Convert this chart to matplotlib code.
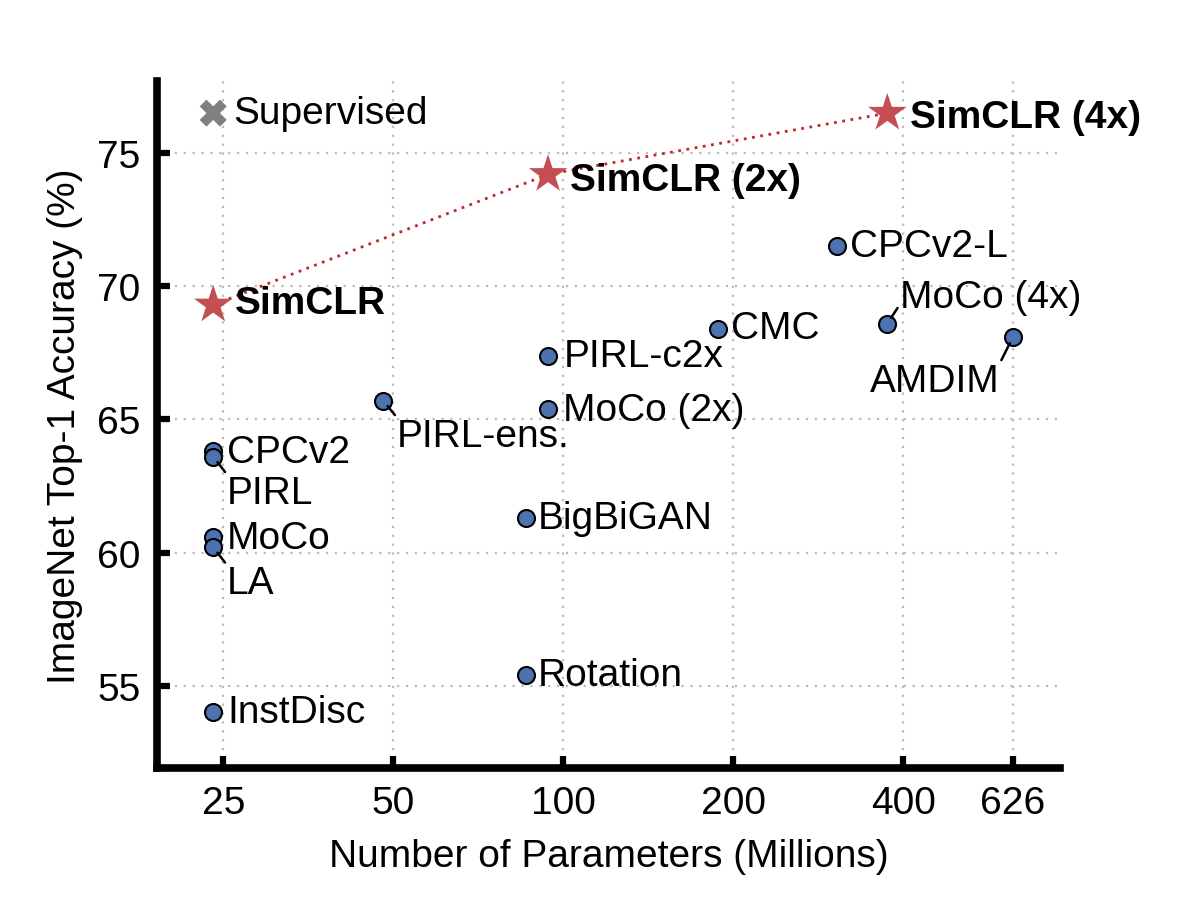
import matplotlib
matplotlib.use("Agg")
import matplotlib.pyplot as plt
import numpy as np

plt.rcParams['font.family'] = ['Liberation Sans', 'DejaVu Sans']

# Data
simclr_names = ["SimCLR", "SimCLR (2x)", "SimCLR (4x)"]
simclr_params = [24, 94, 375]
simclr_acc = [69.3, 74.2, 76.5]

sup_name = "Supervised"
sup_params = [24]
sup_acc = [76.5]

other_names = ["CPCv2-L", "MoCo (4x)", "AMDIM", "CMC", "PIRL-c2x", "MoCo (2x)",
               "PIRL-ens.", "CPCv2", "PIRL", "MoCo", "LA", "BigBiGAN",
               "Rotation", "InstDisc"]
other_params = [305, 375, 626, 188, 94, 94, 48, 24, 24, 24, 24, 86, 86, 24]
other_acc = [71.5, 68.6, 68.1, 68.4, 67.4, 65.4, 65.7, 63.8, 63.6, 60.6, 60.2,
             61.3, 55.4, 54.0]

xticks = [25, 50, 100, 200, 400, 626]
yticks = [55, 60, 65, 70, 75]

# label offsets (points) and alignment; leader line relpos if any
px = 0.72
label_style = {
    "CPCv2-L": (13, 0, 'left', None),
    "MoCo (4x)": (13, 27, 'left', (0, 0.3)),
    "AMDIM": (-13, -44, 'right', (1, 1)),
    "CMC": (13, 1, 'left', None),
    "PIRL-c2x": (16, 0, 'left', None),
    "MoCo (2x)": (15, -1, 'left', None),
    "PIRL-ens.": (14, -35, 'left', (0, 1)),
    "CPCv2": (14, -1, 'left', None),
    "PIRL": (14, -36, 'left', (0, 1)),
    "MoCo": (14, -1, 'left', None),
    "LA": (14, -36, 'left', (0, 1)),
    "BigBiGAN": (12, 0, 'left', None),
    "Rotation": (12, 0, 'left', None),
    "InstDisc": (14, 0, 'left', None),
}
simclr_offsets = [(22, 2), (22, -6), (23, -4)]

blue = '#4C72B0'
red = '#C44E52'

fig = plt.figure(figsize=(12, 9.03), dpi=100)
ax = fig.add_axes([0.131, 0.148, 0.752, 0.761])
ax.set_xscale('log')
ax.set_xlim(19.1, 757)
ax.set_ylim(51.9, 77.7)

ax.grid(True, linestyle=(0, (1, 3)), color='#bbbbbb', linewidth=1.6)
ax.set_axisbelow(True)

# SimCLR line + stars
ax.plot(simclr_params, simclr_acc, linestyle=(0, (1, 2)), color='#C0282D',
        linewidth=2, zorder=2)
ax.scatter(simclr_params, simclr_acc, marker='*', s=850, color=red,
           edgecolor='none', zorder=4)
for n, x, y, (dx, dy) in zip(simclr_names, simclr_params, simclr_acc, simclr_offsets):
    ax.annotate(n, (x, y), xytext=(dx * px, dy * px), textcoords='offset points',
                ha='left', va='center', fontsize=28, fontweight='bold', zorder=5)

# Supervised
ax.scatter(sup_params, sup_acc, marker='X', s=380, color='#808080',
           edgecolor='none', zorder=4)
ax.annotate(sup_name, (sup_params[0], sup_acc[0]), xytext=(20 * px, 0),
            textcoords='offset points', ha='left', va='center', fontsize=28)

# Others
ax.scatter(other_params, other_acc, marker='o', s=150, color=blue,
           edgecolor='black', linewidth=1.5, zorder=4)
for n, x, y in zip(other_names, other_params, other_acc):
    dx, dy, ha, rel = label_style[n]
    kw = {}
    if rel is not None:
        kw['arrowprops'] = dict(arrowstyle='-', color='black', lw=1.8,
                                shrinkA=0, shrinkB=5, relpos=rel)
    ax.annotate(n, (x, y), xytext=(dx * px, dy * px), textcoords='offset points',
                ha=ha, va='center', fontsize=28, zorder=5, **kw)

ax.set_xticks(xticks)
ax.set_xticklabels([str(t) for t in xticks])
ax.xaxis.set_minor_locator(matplotlib.ticker.NullLocator())
ax.set_yticks(yticks)

for s in ['top', 'right']:
    ax.spines[s].set_visible(False)
for s in ['left', 'bottom']:
    ax.spines[s].set_linewidth(5.5)
ax.tick_params(axis='both', direction='in', length=9, width=4.5,
               labelsize=28, pad=12)

ax.set_xlabel("Number of Parameters (Millions)", fontsize=28, labelpad=12)
ax.set_ylabel("ImageNet Top-1 Accuracy (%)", fontsize=28, labelpad=10)

fig.savefig("out.png", dpi=100)
